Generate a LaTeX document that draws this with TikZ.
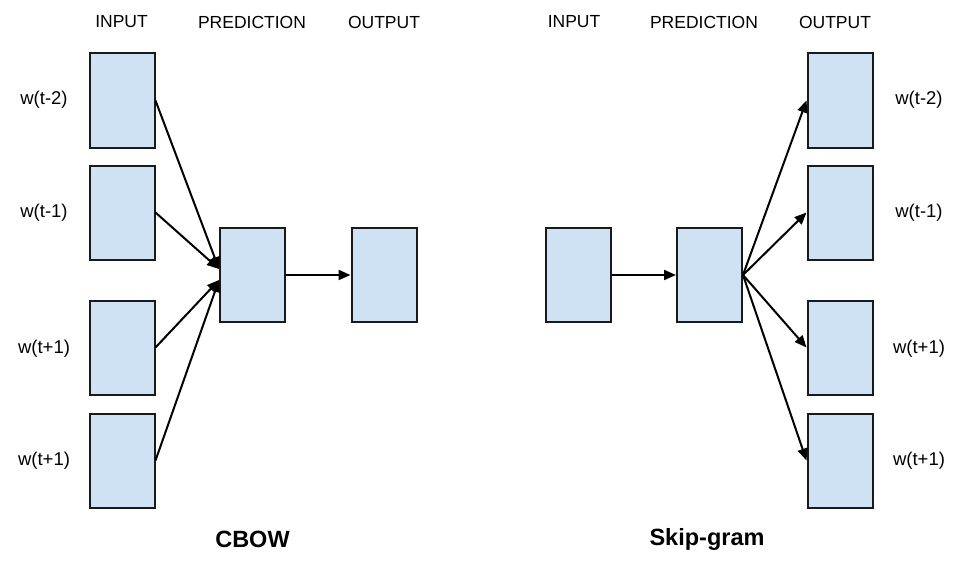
\documentclass[tikz,border=0pt]{standalone}
\usepackage{fontspec}
\setmainfont{Liberation Sans}
\usetikzlibrary{arrows.meta}
\definecolor{boxfill}{HTML}{CFE2F3}
\definecolor{boxline}{HTML}{1A1A1A}
\tikzset{
  vbox/.style={draw=boxline, fill=boxfill, line width=2pt, minimum width=65pt, minimum height=94pt, inner sep=0pt},
  hdr/.style={font=\fontsize{17.5}{20}\selectfont, inner sep=0pt},
  wlab/.style={font=\fontsize{18.5}{21}\selectfont, inner sep=0pt},
  ttl/.style={font=\fontsize{23.5}{26}\selectfont\bfseries, inner sep=0pt},
  arr/.style={line width=2pt, -{Triangle[length=12pt,width=10pt]}}
}
\begin{document}
\begin{tikzpicture}[x=1pt,y=-1pt]
\useasboundingbox (0,0) rectangle (958,586);
% CBOW
\node[hdr] (h1) at (121.5,22) {INPUT};
\node[hdr] (h2) at (252,22) {PREDICTION};
\node[hdr] (h3) at (384,22) {OUTPUT};
\node[vbox] (i1) at (122,100.5) {};
\node[vbox] (i2) at (122,212.5) {};
\node[vbox] (i3) at (122,347.5) {};
\node[vbox] (i4) at (122,460.5) {};
\node[vbox] (p1) at (252.5,275) {};
\node[vbox] (o1) at (384,275) {};
\node[wlab] (l1) at (44,100) {w(t-2)};
\node[wlab] (l2) at (44,213) {w(t-1)};
\node[wlab] (l3) at (44,349) {w(t+1)};
\node[wlab] (l4) at (44,461) {w(t+1)};
\coordinate (pa) at ([yshift=6pt]p1.west);
\coordinate (pb) at ([yshift=-5pt]p1.west);
\draw[arr] (i1.east) -- (pa);
\draw[arr] (i2.east) -- (pa);
\draw[arr] (i3.east) -- (pb);
\draw[arr] (i4.east) -- (pb);
\draw[arr] (p1.east) -- (o1.west);
\node[ttl] (t1) at (252.5,539) {CBOW};
% Skip-gram
\node[hdr] (h4) at (574,22) {INPUT};
\node[hdr] (h5) at (704,22) {PREDICTION};
\node[hdr] (h6) at (835,22) {OUTPUT};
\node[vbox] (si) at (578.5,275) {};
\node[vbox] (sp) at (709.5,275) {};
\node[vbox] (s1) at (840,100.5) {};
\node[vbox] (s2) at (840,212.5) {};
\node[vbox] (s3) at (840,347.5) {};
\node[vbox] (s4) at (840,460.5) {};
\node[wlab] (r1) at (919,100) {w(t-2)};
\node[wlab] (r2) at (919,213) {w(t-1)};
\node[wlab] (r3) at (919,349) {w(t+1)};
\node[wlab] (r4) at (919,461) {w(t+1)};
\draw[arr] (si.east) -- (sp.west);
\draw[arr] (sp.east) -- (s1.west);
\draw[arr] (sp.east) -- (s2.west);
\draw[arr] (sp.east) -- (s3.west);
\draw[arr] (sp.east) -- (s4.west);
\node[ttl] (t2) at (707,539) {Skip-gram};
\end{tikzpicture}
\end{document}
